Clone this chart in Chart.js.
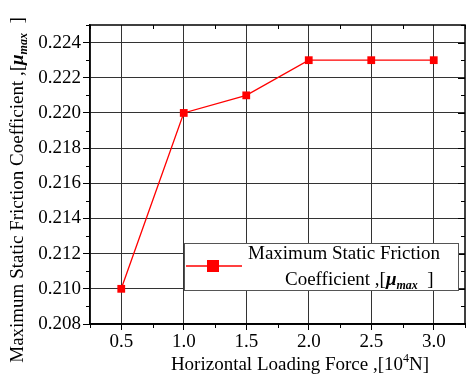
<!DOCTYPE html>
<html>
<head>
<meta charset="utf-8">
<script src="https://cdn.jsdelivr.net/npm/chart.js@4/dist/chart.umd.min.js"></script>
<style>html,body{margin:0;padding:0;background:#fff}</style>
</head>
<body>
<canvas id="chart" width="474" height="379"></canvas>
<script>
// DATA
const forces = [0.5, 1.0, 1.5, 2.0, 2.5, 3.0];
const muMax = [0.210, 0.220, 0.221, 0.223, 0.223, 0.223];
const xTicks = [0.5, 1.0, 1.5, 2.0, 2.5, 3.0];
const yTicks = [0.208, 0.210, 0.212, 0.214, 0.216, 0.218, 0.220, 0.222, 0.224];
const seriesName = "Maximum Static Friction Coefficient";

const SERIF = "'Liberation Serif', 'Times New Roman', serif";
const RED = "#ff0000";

// draw a run of text pieces (font, dy) one after the other
function drawRuns(ctx, runs, x, y, align) {
    let total = 0;
    runs.forEach(r => { ctx.font = r.font; r.w = ctx.measureText(r.t).width; total += r.w; });
    let cx = align === "center" ? x - total / 2 : x;
    ctx.textAlign = "left";
    ctx.textBaseline = "alphabetic";
    runs.forEach(r => {
        ctx.font = r.font;
        ctx.fillText(r.t, cx, y + (r.dy || 0));
        cx += r.w;
    });
}

const muRuns = () => [
    { t: "μ", font: "bold italic 19px " + SERIF },
    { t: "max", font: "bold italic 12px " + SERIF, dy: 4 },
    { t: "  ]", font: "19px " + SERIF }
];

// FRAME, MINOR TICKS, TITLES, LEGEND
const decor = {
    id: "decor",
    afterDraw(chart) {
        const ctx = chart.ctx;
        const a = chart.chartArea;
        const xs = chart.scales.x, ys = chart.scales.y;
        ctx.save();
        ctx.strokeStyle = "#000";
        ctx.lineWidth = 1.5;
        ctx.strokeRect(a.left, a.top, a.right - a.left, a.bottom - a.top);

        ctx.lineWidth = 1;
        ctx.beginPath();
        // x minor ticks
        for (let v = 0.25; v <= 3.25; v += 0.5) {
            const px = Math.round(xs.getPixelForValue(v)) + 0.5;
            ctx.moveTo(px, a.bottom); ctx.lineTo(px, a.bottom + 4);
            ctx.moveTo(px, a.top); ctx.lineTo(px, a.top + 4);
        }
        // y minor + right side ticks
        for (let i = 0; i <= 17; i++) {
            const v = 0.208 + i * 0.001;
            const py = Math.round(ys.getPixelForValue(v)) + 0.5;
            const major = i % 2 === 0;
            if (!major) { ctx.moveTo(a.left - 4, py); ctx.lineTo(a.left, py); }
            ctx.moveTo(a.right, py); ctx.lineTo(a.right - (major ? 7 : 4), py);
        }
        ctx.stroke();

        ctx.fillStyle = "#000";
        // y title
        ctx.save();
        ctx.translate(17, 190);
        ctx.rotate(-Math.PI / 2);
        drawRuns(ctx, [{ t: "Maximum Static Friction Coefficient ,[", font: "19px " + SERIF }].concat(muRuns()), 0, 6, "center");
        ctx.restore();

        // x title
        drawRuns(ctx, [
            { t: "Horizontal Loading Force ,[10", font: "19px " + SERIF },
            { t: "4", font: "12px " + SERIF, dy: -8 },
            { t: "N]", font: "19px " + SERIF }
        ], 300, 370, "center");

        // legend box
        const ds = chart.data.datasets[0];
        ctx.fillStyle = "#fff";
        ctx.fillRect(184, 243, 274, 47);
        ctx.strokeStyle = "#555";
        ctx.lineWidth = 1;
        ctx.strokeRect(184.5, 243.5, 274, 47);
        ctx.strokeStyle = ds.borderColor;
        ctx.lineWidth = 1.3;
        ctx.beginPath();
        ctx.moveTo(186, 266); ctx.lineTo(242, 266);
        ctx.stroke();
        ctx.fillStyle = ds.backgroundColor;
        ctx.fillRect(207, 260, 12, 12);
        ctx.fillStyle = "#000";
        drawRuns(ctx, [{ t: "Maximum Static Friction", font: "19px " + SERIF }], 248, 259, "left");
        drawRuns(ctx, [{ t: "Coefficient ,[", font: "19px " + SERIF }].concat(muRuns()), 285, 285, "left");
        ctx.restore();
    }
};

new Chart(document.getElementById("chart"), {
    type: "scatter",
    data: {
        datasets: [{
            label: seriesName,
            data: forces.map((f, i) => ({ x: f, y: muMax[i] })),
            showLine: true,
            borderColor: RED,
            backgroundColor: RED,
            borderWidth: 1.3,
            pointStyle: "rect",
            pointRadius: 5.5,
            pointHoverRadius: 5.5,
            pointBorderWidth: 0
        }]
    },
    options: {
        responsive: false,
        animation: false,
        layout: { padding: { left: 0, right: 9, top: 25, bottom: 0 } },
        plugins: { legend: { display: false }, tooltip: { enabled: false } },
        scales: {
            x: {
                type: "linear",
                min: 0.25,
                max: 3.25,
                afterBuildTicks: s => { s.ticks = xTicks.map(v => ({ value: v })); },
                afterFit: s => { s.height = 55; },
                grid: { color: "#333", lineWidth: 1, tickColor: "#000", tickLength: 6 },
                border: { color: "#000", width: 1.5 },
                ticks: {
                    color: "#000",
                    padding: 1,
                    font: { family: SERIF, size: 19 },
                    callback: v => v.toFixed(1)
                }
            },
            y: {
                min: 0.208,
                max: 0.225,
                afterBuildTicks: s => { s.ticks = yTicks.map(v => ({ value: v })); },
                afterFit: s => { s.width = 90; },
                grid: { color: "#333", lineWidth: 1, tickColor: "#000", tickLength: 7 },
                border: { color: "#000", width: 1.5 },
                ticks: {
                    color: "#000",
                    padding: 2,
                    font: { family: SERIF, size: 19 },
                    callback: v => v.toFixed(3)
                }
            }
        }
    },
    plugins: [decor]
});
</script>
</body>
</html>
